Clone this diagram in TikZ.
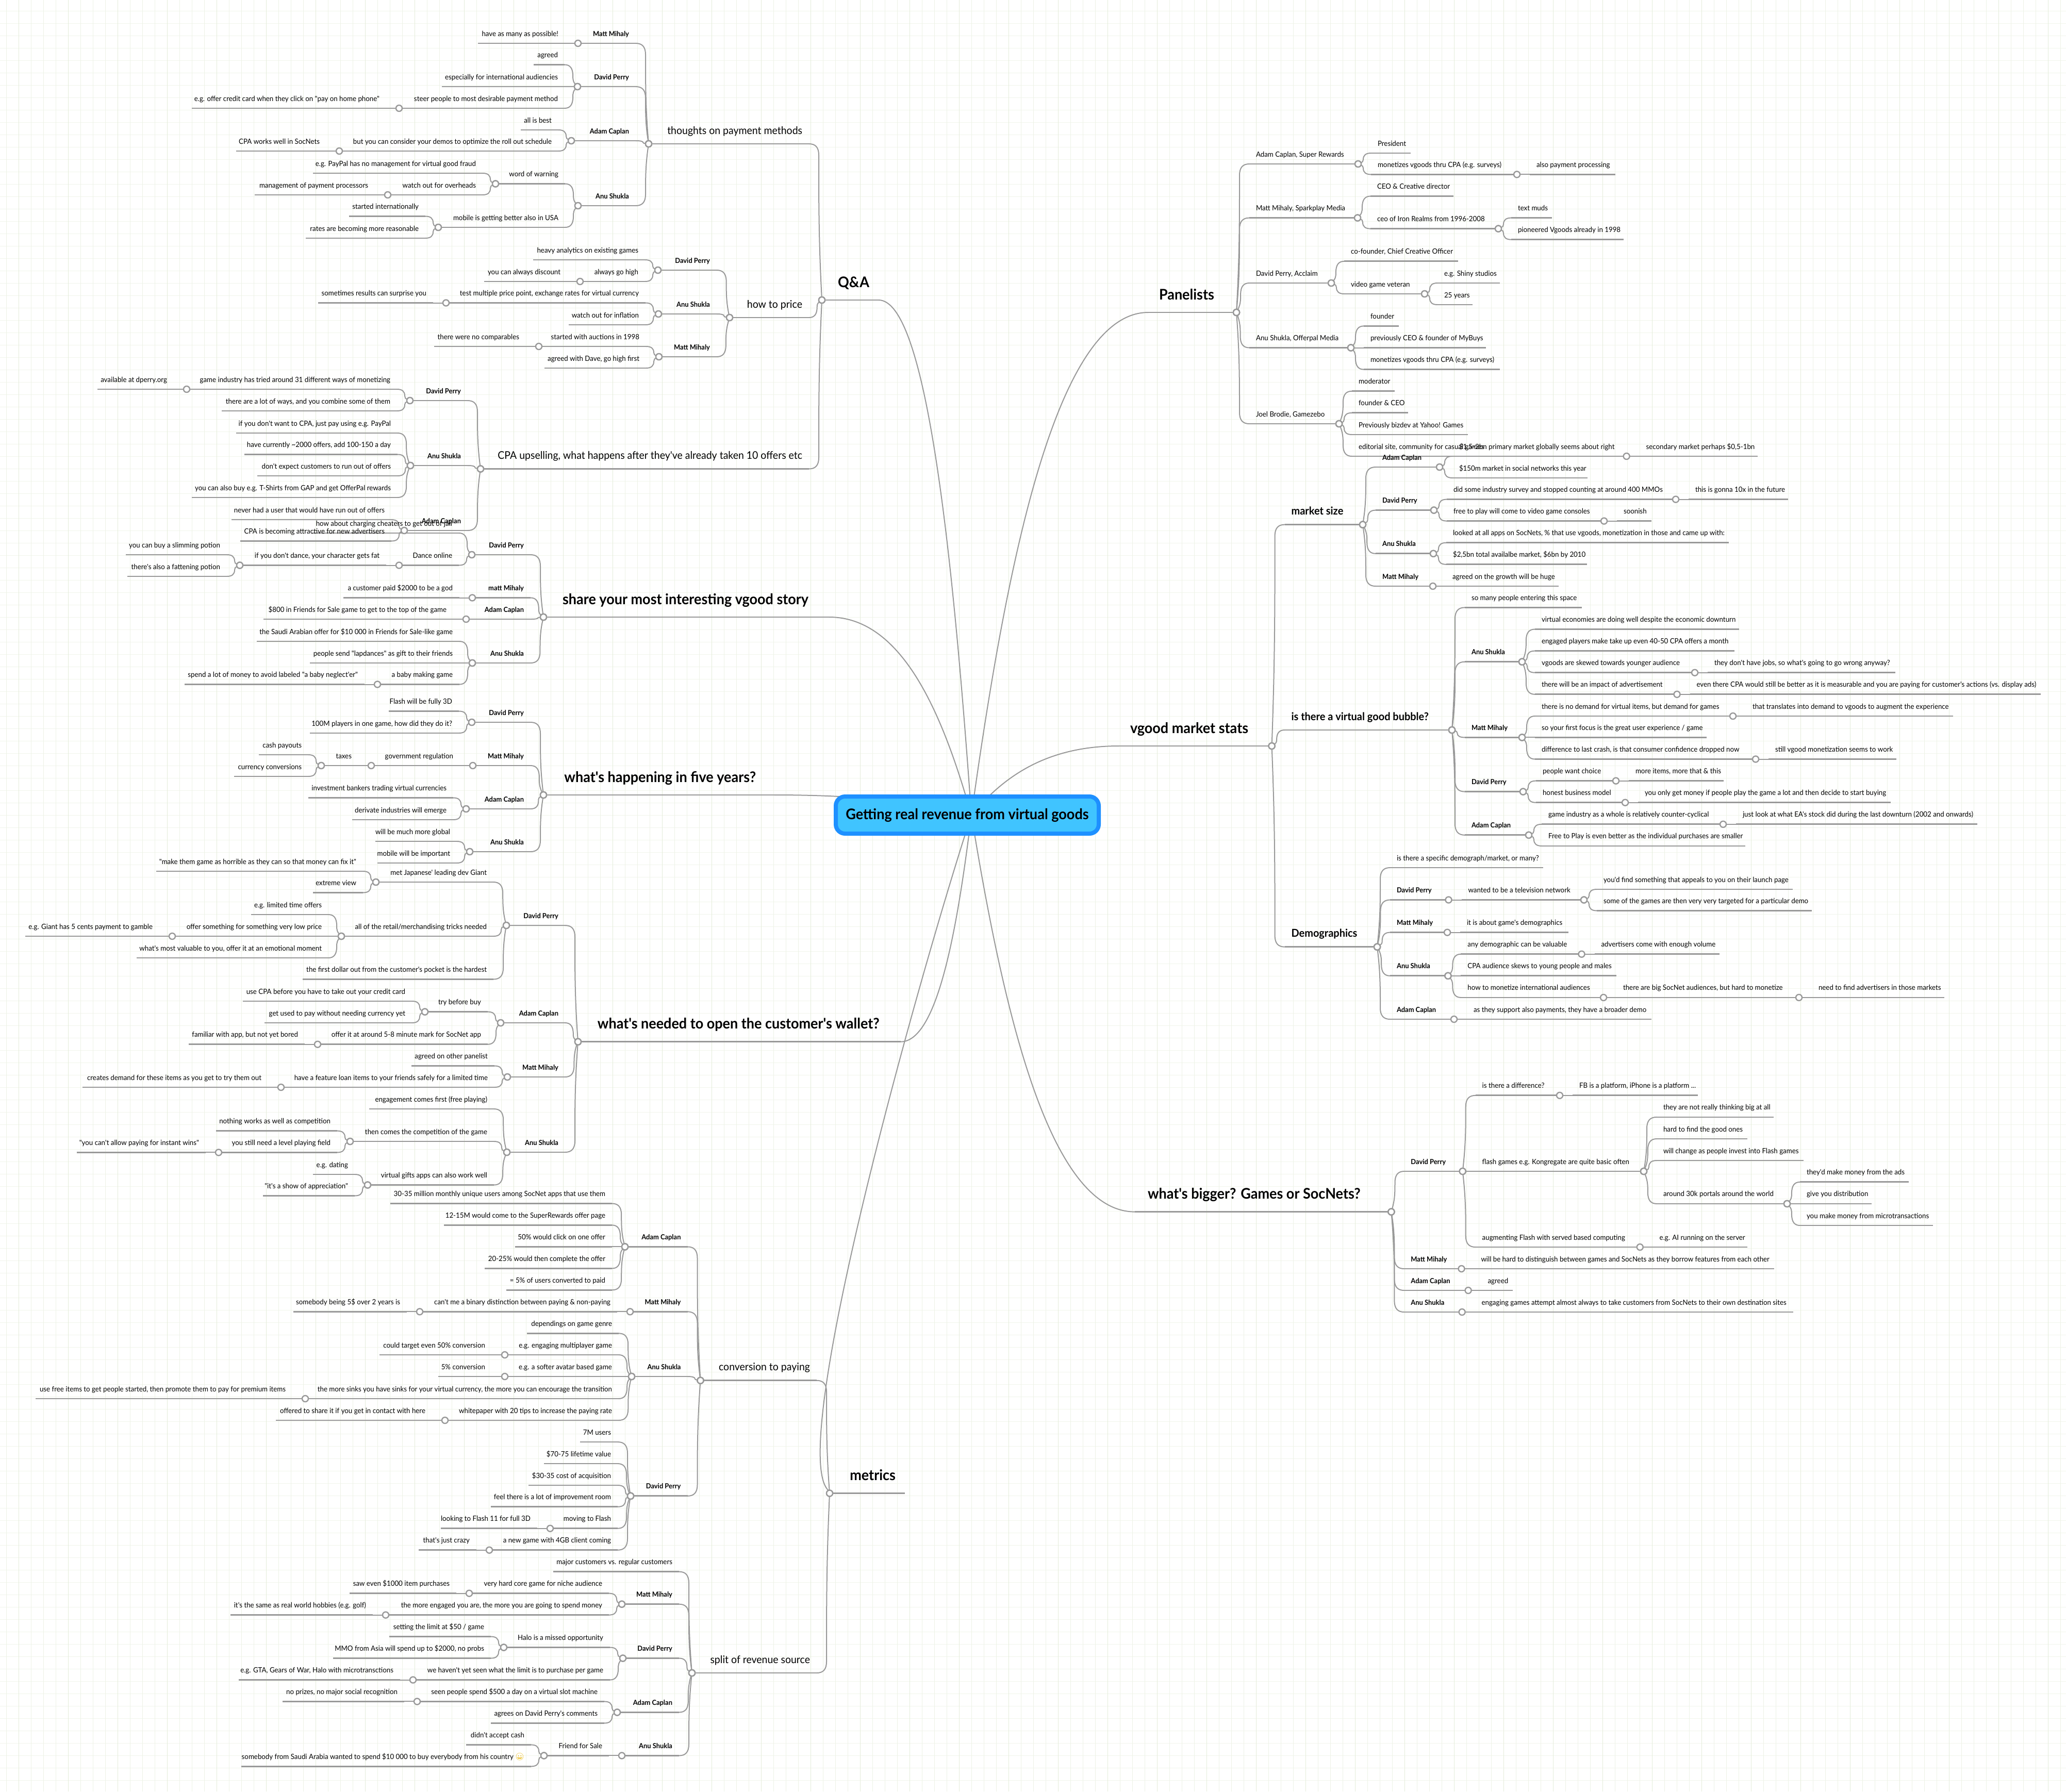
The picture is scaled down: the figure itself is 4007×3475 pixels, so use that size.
\documentclass[tikz,border=0pt]{standalone}
\usepackage{fontspec}
\usetikzlibrary{calc}
\newfontfamily\mmf{Lato}[FakeStretch=0.95]
\newfontfamily\emojif{Noto Emoji}
\definecolor{ln}{HTML}{999999}
\definecolor{gv}{HTML}{EDF2E6}
\definecolor{gm}{HTML}{E4ECDA}
\definecolor{gh}{HTML}{F1F5EB}
\definecolor{rootb}{HTML}{1E90FF}
\definecolor{rootf}{HTML}{40C4FF}
\definecolor{emo}{HTML}{E8B400}
\tikzset{
 conn/.style={draw=ln,line width=2pt,line cap=round},
 stem/.style={draw=ln,line width=2.7pt},
 rootconn/.style={draw=ln,line width=2pt},
 dot/.style={circle,draw=ln,fill=white,line width=2.4pt,inner sep=0pt,minimum size=12pt},
 lbl/.style={inner sep=0pt,outer sep=0pt,text=black},
 sm/.style={lbl,font=\mmf\fontsize{14}{16}\selectfont},
 bd/.style={lbl,font=\mmf\bfseries\fontsize{13.6}{16}\selectfont},
 md/.style={lbl,yshift=5pt,font=\mmf\fontsize{20.5}{24}\selectfont},
 mb/.style={lbl,yshift=5pt,font=\mmf\bfseries\fontsize{21}{24}\selectfont},
 tp/.style={lbl,font=\mmf\bfseries\fontsize{28.4}{30}\selectfont},
 rootbox/.style={draw=rootb,fill=rootf,line width=8pt,rounded corners=18pt,minimum width=510pt,minimum height=72pt,inner sep=0pt,font=\mmf\bfseries\fontsize{28.5}{34}\selectfont},
}
\makeatletter
\gdef\deferred{}
\newcommand\addfg[1]{\g@addto@macro\deferred{#1}}
\makeatother
\newcommand\fgnode[7]{\node[#1,anchor=#2] (#3-t) at (#4,#5-14) {#7}; \node[dot] at (#6) {};}
\newcommand\fgtop[5]{\node[tp,anchor=base #1] (#2-t) at (#3,#4-25) {#5};}
\newcommand\regnode[3]{\expandafter\gdef\csname X@#1\endcsname{#2}\expandafter\gdef\csname Y@#1\endcsname{#3}}
\newcommand\branch[8]{%
 \regnode{#1}{#3}{#4}%
 \pgfmathsetmacro\px{\csname X@#2\endcsname}%
 \pgfmathsetmacro\py{\csname Y@#2\endcsname}%
 \pgfmathsetmacro\nx{\px+(#7)*25}%
 \pgfmathsetmacro\tx{\px+(#7)*38}%
 \pgfmathsetmacro\ddy{#4-\py}%
 \pgfmathsetmacro\rr{min(abs(\ddy)*0.6,22)}%
 \pgfmathsetmacro\sg{(\ddy>0)-(\ddy<0)}%
 \pgfmathsetmacro\ax{\px+(#7)*25*(0.24+0.2*max(0,1-abs(\ddy)/100))}%
 \pgfmathsetmacro\ay{#4-\sg*\rr}%
 \pgfmathsetmacro\ma{\py+0.4*(\ay-\py)}%
 \pgfmathsetmacro\mb{\py+0.65*(\ay-\py)}%
 \pgfmathsetmacro\cx{\ax+0.35*(\nx-\ax)}%
 \coordinate (#1) at (#3,#4);
 \coordinate (#1-n) at (\nx,#4);
 \draw[conn] (#2) .. controls (\ax,\ma) and (\ax,\mb) .. (\ax,\ay) .. controls (\ax,\ay+\sg*\rr*0.7) and (\cx,#4) .. (#1-n);
 \draw[stem] (#1-n) -- (#1);
 \edef\tmpa{\noexpand\fgnode{#5}{#8}{#1}{\tx}{#4}{#2}}%
 \expandafter\addfg\expandafter{\tmpa{#6}}%
}
\newcommand\LB[6]{\branch{#1}{#2}{#3}{#4}{#5}{#6}{-1}{base east}}
\newcommand\RB[6]{\branch{#1}{#2}{#3}{#4}{#5}{#6}{1}{base west}}
\newcommand\TP[7]{% id far y near textx side text
 \regnode{#1}{#2}{#3}%
 \pgfmathsetmacro\ddx{1884-#4}%
 \pgfmathsetmacro\ddy{1581-#3}%
 \pgfmathsetmacro\ca{#4+0.53*\ddx}%
 \pgfmathsetmacro\cb{#4+0.81*\ddx}%
 \pgfmathsetmacro\cc{#3+0.52*\ddy}%
 \coordinate (#1) at (#2,#3);
 \coordinate (#1-n) at (#4,#3);
 \draw[rootconn] (#1-n) .. controls (\ca,#3) and (\cb,\cc) .. (hub);
 \draw[stem] (#1-n) -- (#1);
 \addfg{\fgtop{#6}{#1}{#5}{#3}{#7}}%
}
\begin{document}
\begin{tikzpicture}[x=1pt,y=-1pt]
\useasboundingbox (0,0) rectangle (4007,3475);
\fill[white] (0,0) rectangle (4007,3475);
\foreach \i in {0,...,144} \draw[gh,line width=1pt] (0,21.7+24*\i) -- (4007,21.7+24*\i);
\foreach \i in {0,...,166} {\pgfmathparse{mod(\i,4)==1?"gm":"gv"}\edef\gc{\pgfmathresult}\draw[\gc,line width=1pt] (12.3+24*\i,0) -- (12.3+24*\i,3475);}
\coordinate (hub) at (1884,1581);
% ---------- Q&A
\TP{q}{1594}{582}{1704}{1686}{east}{Q\&A}
\LB{qa}{q}{1258}{279}{md}{thoughts on payment methods}
\LB{qa1}{qa}{1121}{84}{bd}{Matt Mihaly}
\LB{qa1a}{qa1}{927}{84}{sm}{have as many as possible!}
\LB{qa2}{qa}{1120}{168}{bd}{David Perry}
\LB{qa2a}{qa2}{1035}{125.5}{sm}{agreed}
\LB{qa2b}{qa2}{857}{168}{sm}{especially for international audiencies}
\LB{qa2c}{qa2}{774}{210}{sm}{steer people to most desirable payment method}
\LB{qa2c1}{qa2c}{372}{210}{sm}{e.g. offer credit card when they click on "pay on home phone"}
\LB{qa3}{qa}{1108}{273}{bd}{Adam Caplan}
\LB{qa3a}{qa3}{1010}{252}{sm}{all is best}
\LB{qa3b}{qa3}{658}{293}{sm}{but you can consider your demos to optimize the roll out schedule}
\LB{qa3b1}{qa3b}{458}{293}{sm}{CPA works well in SocNets}
\LB{qa4}{qa}{1121}{399}{bd}{Anu Shukla}
\LB{qa4a}{qa4}{961}{356.5}{sm}{word of warning}
\LB{qa4a1}{qa4a}{607}{336}{sm}{e.g. PayPal has no management for virtual good fraud}
\LB{qa4a2}{qa4a}{752}{378}{sm}{watch out for overheads}
\LB{qa4a2x}{qa4a2}{494}{378}{sm}{management of payment processors}
\LB{qa4b}{qa4}{850}{441}{sm}{mobile is getting better also in USA}
\LB{qa4b1}{qa4b}{677}{419.5}{sm}{started internationally}
\LB{qa4b2}{qa4b}{593}{462}{sm}{rates are becoming more reasonable}
\LB{qb}{q}{1415}{616}{md}{how to price}
\LB{qb1}{qb}{1276}{524}{bd}{David Perry}
\LB{qb1a}{qb1}{1034}{504}{sm}{heavy analytics on existing games}
\LB{qb1b}{qb1}{1125}{546}{sm}{always go high}
\LB{qb1b1}{qb1b}{939}{546}{sm}{you can always discount}
\LB{qb2}{qb}{1277}{609}{bd}{Anu Shukla}
\LB{qb2a}{qb2}{865}{587.5}{sm}{test multiple price point, exchange rates for virtual currency}
\LB{qb2a1}{qb2a}{617}{587.5}{sm}{sometimes results can surprise you}
\LB{qb2b}{qb2}{1103}{630}{sm}{watch out for inflation}
\LB{qb3}{qb}{1278}{692}{bd}{Matt Mihaly}
\LB{qb3a}{qb3}{1045}{672}{sm}{started with auctions in 1998}
\LB{qb3a1}{qb3a}{842}{672}{sm}{there were no comparables}
\LB{qb3b}{qb3}{1056}{714}{sm}{agreed with Dave, go high first}
\LB{qc}{q}{932}{909.5}{md}{CPA upselling, what happens after they've already taken 10 offers etc}
\LB{qc1}{qc}{795}{777}{bd}{David Perry}
\LB{qc1a}{qc1}{362}{755}{sm}{game industry has tried around 31 different ways of monetizing}
\LB{qc1a1}{qc1a}{189}{755}{sm}{available at dperry.org}
\LB{qc1b}{qc1}{430}{797}{sm}{there are a lot of ways, and you combine some of them}
\LB{qc2}{qc}{796}{903}{bd}{Anu Shukla}
\LB{qc2a}{qc2}{458}{840}{sm}{if you don't want to CPA, just pay using e.g. PayPal}
\LB{qc2b}{qc2}{474}{881.5}{sm}{have currently \textasciitilde2000 offers, add 100-150 a day}
\LB{qc2c}{qc2}{499}{923}{sm}{don't expect customers to run out of offers}
\LB{qc2d}{qc2}{372}{965}{sm}{you can also buy e.g. T-Shirts from GAP and get OfferPal rewards}
\LB{qc3}{qc}{784}{1029}{bd}{Adam Caplan}
\LB{qc3a}{qc3}{449}{1008}{sm}{never had a user that would have run out of offers}
\LB{qc3b}{qc3}{466}{1049.5}{sm}{CPA is becoming attractive for new advertisers}
% ---------- story
\TP{s}{1054}{1197}{1608}{1568}{east}{share your most interesting vgood story}
\LB{s1}{s}{915}{1076}{bd}{David Perry}
\LB{s1a}{s1}{605}{1034}{sm}{how about charging cheaters to get out of jail}
\LB{s1b}{s1}{774}{1096.5}{sm}{Dance online}
\LB{s1b1}{s1b}{465}{1096.5}{sm}{if you don't dance, your character gets fat}
\LB{s1b1a}{s1b1}{244}{1076}{sm}{you can buy a slimming potion}
\LB{s1b1b}{s1b1}{247}{1118}{sm}{there's also a fattening potion}
\LB{s2}{s}{916}{1159.5}{bd}{matt Mihaly}
\LB{s2a}{s2}{666}{1159.5}{sm}{a customer paid \$2000 to be a god}
\LB{s3}{s}{904}{1201}{bd}{Adam Caplan}
\LB{s3a}{s3}{511}{1201}{sm}{\$800 in Friends for Sale game to get to the top of the game}
\LB{s4}{s}{916}{1286}{bd}{Anu Shukla}
\LB{s4a}{s4}{498}{1244}{sm}{the Saudi Arabian offer for \$10 000 in Friends for Sale-like game}
\LB{s4b}{s4}{601}{1286}{sm}{people send "lapdances" as gift to their friends}
\LB{s4c}{s4}{732}{1327.5}{sm}{a baby making game}
\LB{s4c1}{s4c}{358}{1327.5}{sm}{spend a lot of money to avoid labeled "a baby neglect'er"}
% ---------- five years
\TP{h}{1054}{1542}{1502}{1466}{east}{what's happening in five years?}
\LB{h1}{h}{915}{1401}{bd}{David Perry}
\LB{h1a}{h1}{753.5}{1379.5}{sm}{Flash will be fully 3D}
\LB{h1b}{h1}{601}{1422}{sm}{100M players in one game, how did they do it?}
\LB{h2}{h}{917}{1485}{bd}{Matt Mihaly}
\LB{h2a}{h2}{720}{1485}{sm}{government regulation}
\LB{h2a1}{h2a}{623}{1485}{sm}{taxes}
\LB{h2a1a}{h2a1}{502}{1464}{sm}{cash payouts}
\LB{h2a1b}{h2a1}{454}{1506}{sm}{currency conversions}
\LB{h3}{h}{904}{1569}{bd}{Adam Caplan}
\LB{h3a}{h3}{598}{1547.5}{sm}{investment bankers trading virtual currencies}
\LB{h3b}{h3}{683}{1590}{sm}{derivate industries will emerge}
\LB{h4}{h}{911}{1652}{bd}{Anu Shukla}
\LB{h4a}{h4}{727.5}{1632}{sm}{will be much more global}
\LB{h4b}{h4}{732}{1674}{sm}{mobile will be important}
% ---------- wallet
\TP{w}{1121}{2020.7}{1747}{1705.6}{east}{what's needed to open the customer's wallet?}
\LB{w1}{w}{982}{1795}{bd}{David Perry}
\LB{w1a}{w1}{729}{1711}{sm}{met Japanese' leading dev Giant}
\LB{w1a1}{w1a}{302.5}{1690}{sm}{"make them game as horrible as they can so that money can fix it"}
\LB{w1a2}{w1a}{607}{1731.5}{sm}{extreme view}
\LB{w1b}{w1}{662}{1816}{sm}{all of the retail/merchandising tricks needed}
\LB{w1b1}{w1b}{487}{1774}{sm}{e.g. limited time offers}
\LB{w1b2}{w1b}{334}{1816}{sm}{offer something for something very low price}
\LB{w1b2a}{w1b2}{49}{1816}{sm}{e.g. Giant has 5 cents payment to gamble}
\LB{w1b3}{w1b}{264.5}{1858}{sm}{what's most valuable to you, offer it at an emotional moment}
\LB{w1c}{w1}{586.5}{1899.5}{sm}{the first dollar out from the customer's pocket is the hardest}
\LB{w2}{w}{971}{1984}{bd}{Adam Caplan}
\LB{w2a}{w2}{824}{1962.6}{sm}{try before buy}
\LB{w2a1}{w2a}{470.5}{1942}{sm}{use CPA before you have to take out your credit card}
\LB{w2a2}{w2a}{513}{1984}{sm}{get used to pay without needing currency yet}
\LB{w2b}{w2}{616}{2025.7}{sm}{offer it at around 5-8 minute mark for SocNet app}
\LB{w2b1}{w2b}{366}{2025.7}{sm}{familiar with app, but not yet bored}
\LB{w3}{w}{984}{2089}{bd}{Matt Mihaly}
\LB{w3a}{w3}{798}{2067.5}{sm}{agreed on other panelist}
\LB{w3b}{w3}{545}{2109}{sm}{have a feature loan items to your friends safely for a limited time}
\LB{w3b1}{w3b}{160}{2109}{sm}{creates demand for these items as you get to try them out}
\LB{w4}{w}{983}{2235}{bd}{Anu Shukla}
\LB{w4a}{w4}{715.6}{2151}{sm}{engagement comes first (free playing)}
\LB{w4b}{w4}{679}{2214}{sm}{then comes the competition of the game}
\LB{w4b1}{w4b}{418.5}{2193.6}{sm}{nothing works as well as competition}
\LB{w4b2}{w4b}{424}{2235.4}{sm}{you still need a level playing field}
\LB{w4b2a}{w4b2}{148.5}{2235.4}{sm}{"you can't allow paying for instant wins"}
\LB{w4c}{w4}{713}{2298.5}{sm}{virtual gifts apps can also work well}
\LB{w4c1}{w4c}{607}{2278}{sm}{e.g. dating}
\LB{w4c2}{w4c}{509.6}{2319.5}{sm}{"it's a show of appreciation"}
% ---------- metrics
\regnode{m}{1609}{2896.5}
\coordinate (m) at (1609,2896.5);
\coordinate (m-n) at (1755,2896.5);
\coordinate (m-c) at (1620,2896.5);
\draw[rootconn] (hub) .. controls (1780,1900) and (1500,2896.5) .. (m-c);
\draw[stem] (m-n) -- (m);
\addfg{\fgtop{east}{m}{1737}{2896.5}{metrics}}
\LB{mc}{m}{1358.5}{2677.7}{md}{conversion to paying}
\LB{mc1}{mc}{1212}{2418.4}{bd}{Adam Caplan}
\LB{mc1a}{mc1}{757}{2334.5}{sm}{30-35 million monthly unique users among SocNet apps that use them}
\LB{mc1b}{mc1}{861}{2376.4}{sm}{12-15M would come to the SuperRewards offer page}
\LB{mc1c}{mc1}{998.5}{2418.4}{sm}{50\% would click on one offer}
\LB{mc1d}{mc1}{940}{2460.4}{sm}{20-25\% would then complete the offer}
\LB{mc1e}{mc1}{982}{2502.3}{sm}{= 5\% of users converted to paid}
\LB{mc2}{mc}{1222}{2544.3}{bd}{Matt Mihaly}
\LB{mc2a}{mc2}{814}{2544.3}{sm}{can't me a binary distinction between paying \& non-paying}
\LB{mc2a1}{mc2a}{569}{2544.3}{sm}{somebody being 5\$ over 2 years is}
\LB{mc3}{mc}{1225}{2670}{bd}{Anu Shukla}
\LB{mc3a}{mc3}{1022}{2586.3}{sm}{dependings on game genre}
\LB{mc3b}{mc3}{979}{2628}{sm}{e.g. engaging multiplayer game}
\LB{mc3b1}{mc3b}{736}{2628}{sm}{could target even 50\% conversion}
\LB{mc3c}{mc3}{979}{2670}{sm}{e.g. a softer avatar based game}
\LB{mc3c1}{mc3c}{850}{2670}{sm}{5\% conversion}
\LB{mc3d}{mc3}{592}{2713}{sm}{the more sinks you have sinks for your virtual currency, the more you can encourage the transition}
\LB{mc3d1}{mc3d}{69}{2713}{sm}{use free items to get people started, then promote them to pay for premium items}
\LB{mc3e}{mc3}{863}{2755}{sm}{whitepaper with 20 tips to increase the paying rate}
\LB{mc3e1}{mc3e}{534.5}{2755}{sm}{offered to share it if you get in contact with here}
\LB{mc4}{mc}{1223}{2901.8}{bd}{David Perry}
\LB{mc4a}{mc4}{1125}{2797}{sm}{7M users}
\LB{mc4b}{mc4}{1055}{2839}{sm}{\$70-75 lifetime value}
\LB{mc4c}{mc4}{1025}{2881}{sm}{\$30-35 cost of acquisition}
\LB{mc4d}{mc4}{952}{2922.7}{sm}{feel there is a lot of improvement room}
\LB{mc4e}{mc4}{1067}{2964.7}{sm}{moving to Flash}
\LB{mc4e1}{mc4e}{855}{2964.7}{sm}{looking to Flash 11 for full 3D}
\LB{mc4f}{mc4}{949}{3006.7}{sm}{a new game with 4GB client coming}
\LB{mc4f1}{mc4f}{812}{3006.7}{sm}{that's just crazy}
\LB{mr}{m}{1342}{3245}{md}{split of revenue source}
\LB{mr0}{mr}{1073}{3048.6}{sm}{major customers vs. regular customers}
\LB{mr1}{mr}{1206}{3111.6}{bd}{Matt Mihaly}
\LB{mr1a}{mr1}{910}{3090.6}{sm}{very hard core game for niche audience}
\LB{mr1a1}{mr1a}{678}{3090.6}{sm}{saw even \$1000 item purchases}
\LB{mr1b}{mr1}{748}{3132.6}{sm}{the more engaged you are, the more you are going to spend money}
\LB{mr1b1}{mr1b}{447}{3132.6}{sm}{it's the same as real world hobbies (e.g. golf)}
\LB{mr2}{mr}{1208}{3216.5}{bd}{David Perry}
\LB{mr2a}{mr2}{977}{3195.5}{sm}{Halo is a missed opportunity}
\LB{mr2a1}{mr2a}{755}{3174.5}{sm}{setting the limit at \$50 / game}
\LB{mr2a2}{mr2a}{646}{3216.5}{sm}{MMO from Asia will spend up to \$2000, no probs}
\LB{mr2b}{mr2}{801}{3258.5}{sm}{we haven't yet seen what the limit is to purchase per game}
\LB{mr2b1}{mr2b}{463}{3258.5}{sm}{e.g. GTA, Gears of War, Halo with microtransctions}
\LB{mr3}{mr}{1197}{3321.4}{bd}{Adam Caplan}
\LB{mr3a}{mr3}{809}{3300.4}{sm}{seen people spend \$500 a day on a virtual slot machine}
\LB{mr3a1}{mr3a}{547.5}{3300.4}{sm}{no prizes, no major social recognition}
\LB{mr3b}{mr3}{952}{3342.4}{sm}{agrees on David Perry's comments}
\LB{mr4}{mr}{1206}{3405.4}{bd}{Anu Shukla}
\LB{mr4a}{mr4}{1055}{3405.4}{sm}{Friend for Sale}
\LB{mr4a1}{mr4a}{904}{3384.4}{sm}{didn't accept cash}
\LB{mr4a2}{mr4a}{468}{3426.3}{sm}{somebody from Saudi Arabia wanted to spend \$10 000 to buy everybody from his country {\emojif\textcolor{emo}{😀}}}
% ---------- Panelists
\TP{p}{2398}{606}{2227}{2248}{west}{Panelists}
\RB{p1}{p}{2634}{318}{sm}{Adam Caplan, Super Rewards}
\RB{p1a}{p1}{2735.5}{297}{sm}{President}
\RB{p1b}{p1}{2942}{338.4}{sm}{monetizes vgoods thru CPA (e.g. surveys)}
\RB{p1b1}{p1b}{3133}{338.4}{sm}{also payment processing}
\RB{p2}{p}{2633}{422.6}{sm}{Matt Mihaly, Sparkplay Media}
\RB{p2a}{p2}{2819}{380.5}{sm}{CEO \& Creative director}
\RB{p2b}{p2}{2906}{443.6}{sm}{ceo of Iron Realms from 1996-2008}
\RB{p2b1}{p2b}{3010}{422.6}{sm}{text muds}
\RB{p2b2}{p2b}{3149}{464.7}{sm}{pioneered Vgoods already in 1998}
\RB{p3}{p}{2582}{549}{sm}{David Perry, Acclaim}
\RB{p3a}{p3}{2828}{506.8}{sm}{co-founder, Chief Creative Officer}
\RB{p3b}{p3}{2763}{570}{sm}{video game veteran}
\RB{p3b1}{p3b}{2908.5}{549}{sm}{e.g. Shiny studios}
\RB{p3b2}{p3b}{2856}{591}{sm}{25 years}
\RB{p4}{p}{2620}{674.5}{sm}{Anu Shukla, Offerpal Media}
\RB{p4a}{p4}{2712.6}{632.4}{sm}{founder}
\RB{p4b}{p4}{2882}{674.5}{sm}{previously CEO \& founder of MyBuys}
\RB{p4c}{p4}{2908.5}{716.6}{sm}{monetizes vgoods thru CPA (e.g. surveys)}
\RB{p5}{p}{2597}{822}{sm}{Joel Brodie, Gamezebo}
\RB{p5a}{p5}{2705}{758.7}{sm}{moderator}
\RB{p5b}{p5}{2731}{800.8}{sm}{founder \& CEO}
\RB{p5c}{p5}{2846.5}{843}{sm}{Previously bizdev at Yahoo! Games}
\RB{p5d}{p5}{2888}{885}{sm}{editorial site, community for casual games}
% ---------- vgood market stats
\TP{v}{2466.6}{1447}{2170}{2192}{west}{vgood market stats}
\RB{va}{v}{2643}{1017.6}{mb}{market size}
\RB{va1}{va}{2792}{906}{bd}{Adam Caplan}
\RB{va1a}{va1}{3154.6}{885}{sm}{\$1,5-2bn primary market globally seems about right}
\RB{va1a1}{va1a}{3409}{885}{sm}{secondary market perhaps \$0,5-1bn}
\RB{va1b}{va1}{3079.4}{927}{sm}{\$150m market in social networks this year}
\RB{va2}{va}{2781}{989.6}{bd}{David Perry}
\RB{va2a}{va2}{3250}{968.6}{sm}{did some industry survey and stopped counting at around 400 MMOs}
\RB{va2a1}{va2a}{3468}{968.6}{sm}{this is gonna 10x in the future}
\RB{va2b}{va2}{3111}{1010.6}{sm}{free to play will come to video game consoles}
\RB{va2b1}{va2b}{3202.5}{1010.6}{sm}{soonish}
\RB{va3}{va}{2780}{1073.8}{bd}{Anu Shukla}
\RB{va3a}{va3}{3353}{1052.7}{sm}{looked at all apps on SocNets, \% that use vgoods, monetization in those and came up with:}
\RB{va3b}{va3}{3078}{1094.8}{sm}{\$2,5bn total availalbe market, \$6bn by 2010}
\RB{va4}{va}{2779}{1137}{bd}{Matt Mihaly}
\RB{va4a}{va4}{3023}{1137}{sm}{agreed on the growth will be huge}
\RB{vb}{v}{2816}{1416}{mb}{is there a virtual good bubble?}
\RB{vb0}{vb}{3067.5}{1178.4}{sm}{so many people entering this space}
\RB{vb1}{vb}{2952}{1283.7}{bd}{Anu Shukla}
\RB{vb1a}{vb1}{3373}{1220.5}{sm}{virtual economies are doing well despite the economic downturn}
\RB{vb1b}{vb1}{3363.6}{1262.6}{sm}{engaged players make take up even 40-50 CPA offers a month}
\RB{vb1c}{vb1}{3287}{1304.7}{sm}{vgoods are skewed towards younger audience}
\RB{vb1c1}{vb1c}{3676}{1304.7}{sm}{they don't have jobs, so what's going to go wrong anyway?}
\RB{vb1d}{vb1}{3252.5}{1346.8}{sm}{there will be an impact of advertisement}
\RB{vb1d1}{vb1d}{3958}{1346.8}{sm}{even there CPA would still be better as it is measurable and you are paying for customer's actions (vs. display ads)}
\RB{vb2}{vb}{2952}{1430.4}{bd}{Matt Mihaly}
\RB{vb2a}{vb2}{3361}{1389}{sm}{there is no demand for virtual items, but demand for games}
\RB{vb2a1}{vb2a}{3788}{1389}{sm}{that translates into demand to vgoods to augment the experience}
\RB{vb2b}{vb2}{3310}{1430.4}{sm}{so your first focus is the great user experience / game}
\RB{vb2c}{vb2}{3405}{1472.5}{sm}{difference to last crash, is that consumer confidence dropped now}
\RB{vb2c1}{vb2c}{3678}{1472.5}{sm}{still vgood monetization seems to work}
\RB{vb3}{vb}{2954}{1535.6}{bd}{David Perry}
\RB{vb3a}{vb3}{3134}{1514.6}{sm}{people want choice}
\RB{vb3a1}{vb3a}{3343}{1514.6}{sm}{more items, more that \& this}
\RB{vb3b}{vb3}{3152}{1556.7}{sm}{honest business model}
\RB{vb3b1}{vb3b}{3667}{1556.7}{sm}{you only get money if people play the game a lot and then decide to start buying}
\RB{vb4}{vb}{2965}{1619.8}{bd}{Adam Caplan}
\RB{vb4a}{vb4}{3342}{1598.8}{sm}{game industry as a whole is relatively counter-cyclical}
\RB{vb4a1}{vb4a}{3835}{1598.8}{sm}{just look at what EA's stock did during the last downturn (2002 and onwards)}
\RB{vb4b}{vb4}{3385}{1640.9}{sm}{Free to Play is even better as the individual purchases are smaller}
\RB{vc}{v}{2671}{1836.7}{mb}{Demographics}
\RB{vc0}{vc}{2993.4}{1683}{sm}{is there a specific demograph/market, or many?}
\RB{vc1}{vc}{2809.5}{1745.5}{bd}{David Perry}
\RB{vc1a}{vc1}{3072}{1745.5}{sm}{wanted to be a television network}
\RB{vc1a1}{vc1a}{3477}{1725}{sm}{you'd find something that appeals to you on their launch page}
\RB{vc1a2}{vc1a}{3514}{1766.5}{sm}{some of the games are then very very targeted for a particular demo}
\RB{vc2}{vc}{2807}{1808.6}{bd}{Matt Mihaly}
\RB{vc2a}{vc2}{3042.4}{1808.6}{sm}{it is about game's demographics}
\RB{vc3}{vc}{2808.4}{1892.8}{bd}{Anu Shukla}
\RB{vc3a}{vc3}{3067.5}{1850.7}{sm}{any demographic can be valuable}
\RB{vc3a1}{vc3a}{3335}{1850.7}{sm}{advertisers come with enough volume}
\RB{vc3b}{vc3}{3135}{1892.8}{sm}{CPA audience skews to young people and males}
\RB{vc3c}{vc3}{3110}{1934.9}{sm}{how to monetize international audiences}
\RB{vc3c1}{vc3c}{3489}{1934.9}{sm}{there are big SocNet audiences, but hard to monetize}
\RB{vc3c1a}{vc3c1}{3771}{1934.9}{sm}{need to find advertisers in those markets}
\RB{vc4}{vc}{2820}{1977}{bd}{Adam Caplan}
\RB{vc4a}{vc4}{3202.5}{1977}{sm}{as they support also payments, they have a broader demo}
% ---------- bigger
\TP{b}{2698.4}{2350.6}{2201}{2226}{west}{what's bigger? Games or SocNets?}
\RB{b1}{b}{2836.7}{2272}{bd}{David Perry}
\RB{b1a}{b1}{3025}{2124.8}{sm}{is there a difference?}
\RB{b1a1}{b1a}{3293}{2124.8}{sm}{FB is a platform, iPhone is a platform ...}
\RB{b1b}{b1}{3188}{2272}{sm}{flash games e.g. Kongregate are quite basic often}
\RB{b1b1}{b1b}{3440}{2166.9}{sm}{they are not really thinking big at all}
\RB{b1b2}{b1b}{3388.6}{2209}{sm}{hard to find the good ones}
\RB{b1b3}{b1b}{3497.5}{2251}{sm}{will change as people invest into Flash games}
\RB{b1b4}{b1b}{3466}{2334.9}{sm}{around 30k portals around the world}
\RB{b1b4a}{b1b4}{3702}{2292.8}{sm}{they'd make money from the ads}
\RB{b1b4b}{b1b4}{3630}{2334.9}{sm}{give you distribution}
\RB{b1b4c}{b1b4}{3749}{2377}{sm}{you make money from microtransactions}
\RB{b1c}{b1}{3180.7}{2419}{sm}{augmenting Flash with served based computing}
\RB{b1c1}{b1c}{3388.6}{2419}{sm}{e.g. AI running on the server}
\RB{b2}{b}{2834.5}{2461}{bd}{Matt Mihaly}
\RB{b2a}{b2}{3441}{2461}{sm}{will be hard to distinguish between games and SocNets as they borrow features from each other}
\RB{b3}{b}{2847.6}{2503}{bd}{Adam Caplan}
\RB{b3a}{b3}{2933.6}{2503}{sm}{agreed}
\RB{b4}{b}{2835.6}{2545}{bd}{Anu Shukla}
\RB{b4a}{b4}{3478}{2545}{sm}{engaging games attempt almost always to take customers from SocNets to their own destination sites}
\node[rootbox] (root) at (1876,1581) {Getting real revenue from virtual goods};
\deferred
\end{tikzpicture}
\end{document}
